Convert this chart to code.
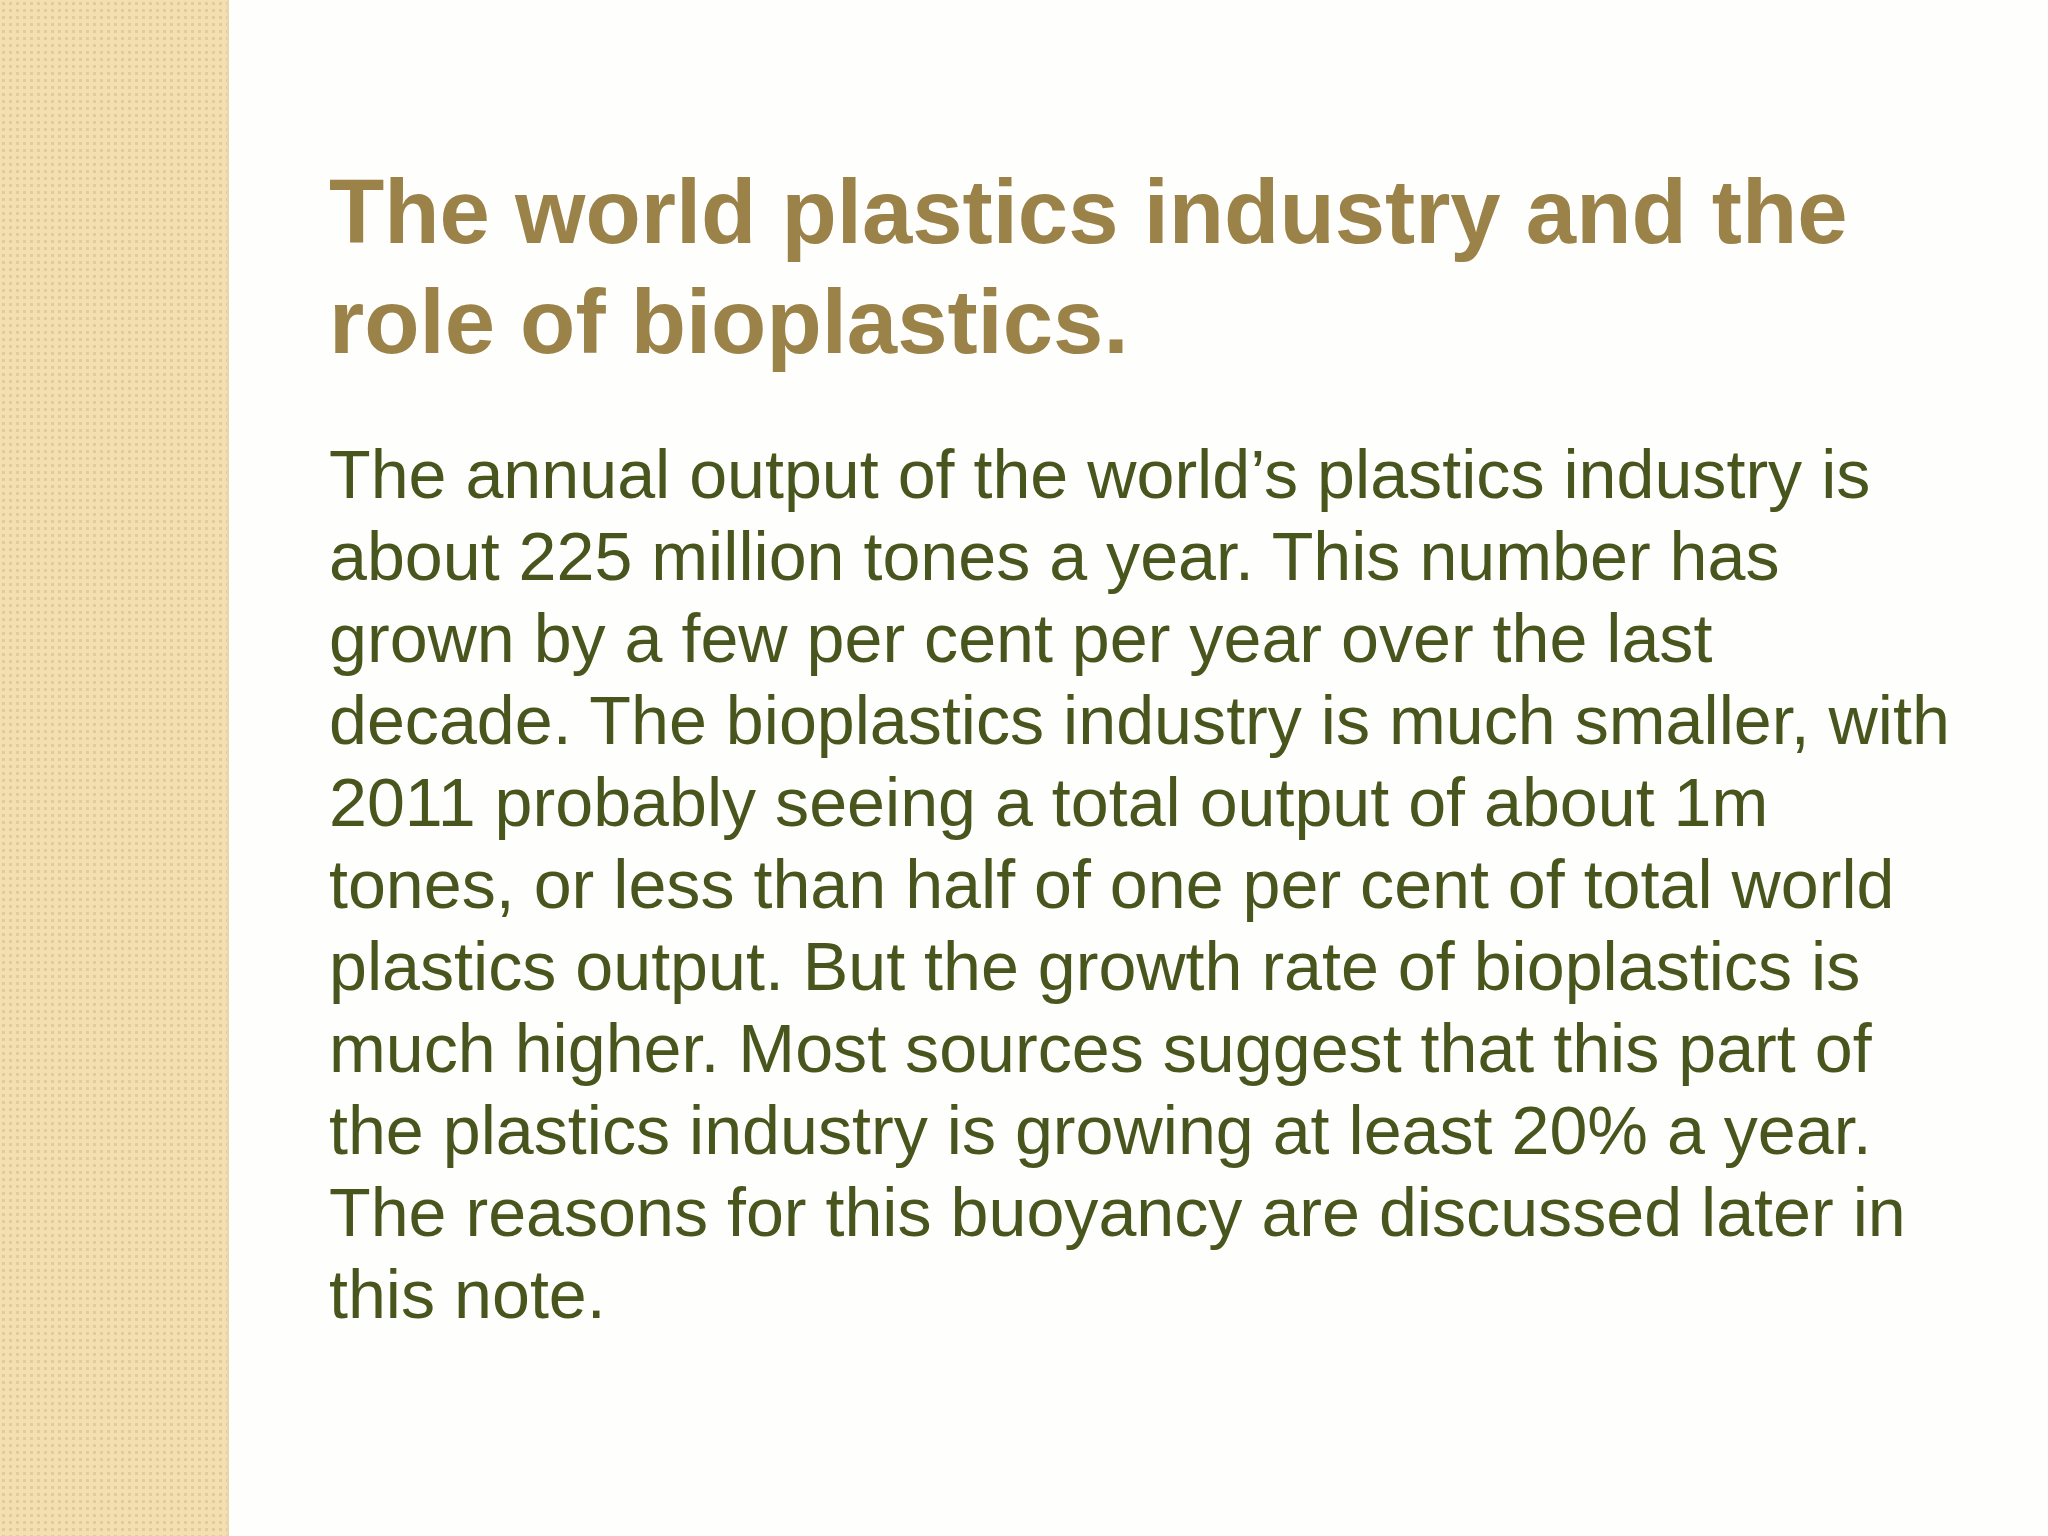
<!DOCTYPE html>
<html>
<head>
<meta charset="utf-8">
<script src="https://cdn.jsdelivr.net/npm/chart.js@4"></script>
<style>
  html, body { margin: 0; width: 2048px; height: 1536px; background: #fefefc; overflow: hidden; }
  #strip {
    position: absolute; left: 0; top: 0; width: 227px; height: 1536px;
    background-color: #f2dfb2;
    background-image: radial-gradient(circle, #e6cc94 1.5px, transparent 2px);
    background-size: 7px 7px;
    border-right: 2px solid #e8d6ad;
  }
  #title {
    position: absolute; left: 329px; top: 157px; margin: 0;
    font: bold 90.5px "Liberation Sans", Arial, sans-serif; line-height: 110px;
    color: #9b8248; white-space: nowrap;
  }
  #body {
    position: absolute; left: 329px; top: 433px; margin: 0;
    font: 68.2px "Liberation Sans", Arial, sans-serif; line-height: 82px;
    color: #48561d; white-space: nowrap;
  }
</style>
</head>
<body>
<div id="strip"></div>
<h1 id="title"></h1>
<p id="body"></p>
<script>
'use strict';

// Slide text, one entry per rendered line
const titleLines = [
  'The world plastics industry and the',
  'role of bioplastics.',
];
const bodyLines = [
  'The annual output of the world\u2019s plastics industry is',
  'about 225 million tones a year. This number has',
  'grown by a few per cent per year over the last',
  'decade. The bioplastics industry is much smaller, with',
  '2011 probably seeing a total output of about 1m',
  'tones, or less than half of one per cent of total world',
  'plastics output. But the growth rate of bioplastics is',
  'much higher. Most sources suggest that this part of',
  'the plastics industry is growing at least 20% a year.',
  'The reasons for this buoyancy are discussed later in',
  'this note.',
];

const fill = (id, lines) => {
  const el = document.getElementById(id);
  lines.forEach((t, i) => {
    if (i) el.appendChild(document.createElement('br'));
    el.appendChild(document.createTextNode(t));
  });
};
fill('title', titleLines);
fill('body', bodyLines);
</script>
</body>
</html>
